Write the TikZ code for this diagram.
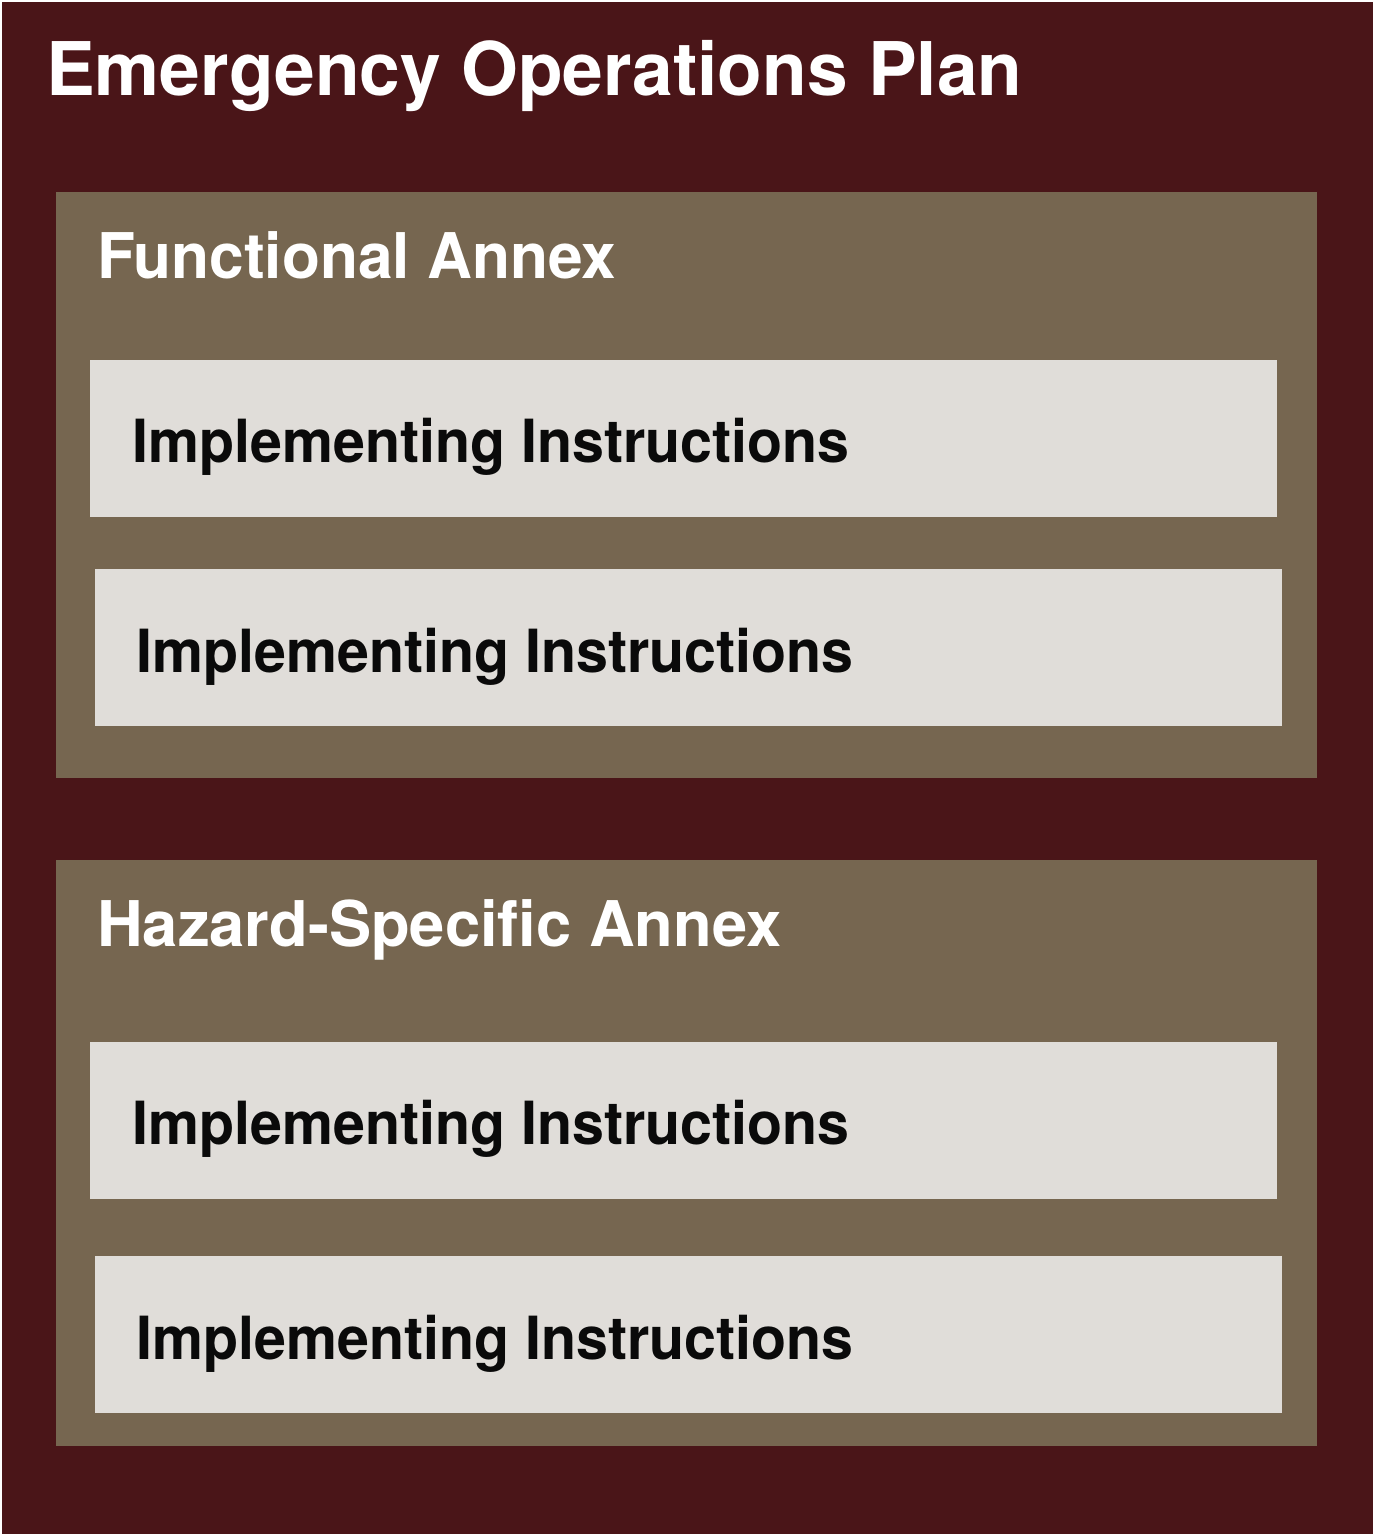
\documentclass[tikz,border=0pt]{standalone}
\usepackage{fontspec}
\usepackage{graphicx}
\setmainfont{TeX Gyre Heros}
\definecolor{maroon}{HTML}{4A1518}
\definecolor{annex}{HTML}{766650}
\definecolor{instr}{HTML}{E0DDD9}
\definecolor{ink}{HTML}{0A0A0A}
\newcommand{\squeeze}[2]{\scalebox{#1}[1]{#2}}
\tikzset{
  boxbase/.style={rectangle, inner sep=0pt, outer sep=0pt, anchor=north west},
  planbox/.style={boxbase, fill=maroon, minimum width=1371pt, minimum height=1532pt},
  annexbox/.style={boxbase, fill=annex, minimum width=1261pt, minimum height=586pt},
  instrbox/.style={boxbase, fill=instr, minimum width=1187pt, minimum height=157pt},
  titletext/.style={anchor=base west, inner sep=0pt, text=white, font=\bfseries\fontsize{74}{80}\selectfont},
  annextext/.style={anchor=base west, inner sep=0pt, text=white, font=\bfseries\fontsize{63}{70}\selectfont},
  instrtext/.style={anchor=base west, inner sep=0pt, text=ink, font=\bfseries\fontsize{59.5}{66}\selectfont},
}
\begin{document}
\begin{tikzpicture}[x=1pt,y=-1pt]
\useasboundingbox[fill=white] (0,0) rectangle (1375,1536);
\node[planbox] (plan) at (2,2) {};
\node[titletext] (plantitle) at (46,96) {\squeeze{0.988}{Emergency Operations Plan}};

\node[annexbox] (fa) at (56,192) {};
\node[annextext] (fatitle) at (97,278) {\squeeze{0.987}{Functional Annex}};
\node[instrbox] (i1) at (90,360) {};
\node[instrtext] (i1t) at (132,462) {\squeeze{0.964}{Implementing Instructions}};
\node[instrbox] (i2) at (95,569) {};
\node[instrtext] (i2t) at (136,672) {\squeeze{0.964}{Implementing Instructions}};

\node[annexbox] (ha) at (56,860) {};
\node[annextext] (hatitle) at (97,946) {\squeeze{1.004}{Hazard-Specific Annex}};
\node[instrbox] (i3) at (90,1042) {};
\node[instrtext] (i3t) at (132,1144) {\squeeze{0.964}{Implementing Instructions}};
\node[instrbox] (i4) at (95,1256) {};
\node[instrtext] (i4t) at (136,1359) {\squeeze{0.964}{Implementing Instructions}};
\end{tikzpicture}
\end{document}
